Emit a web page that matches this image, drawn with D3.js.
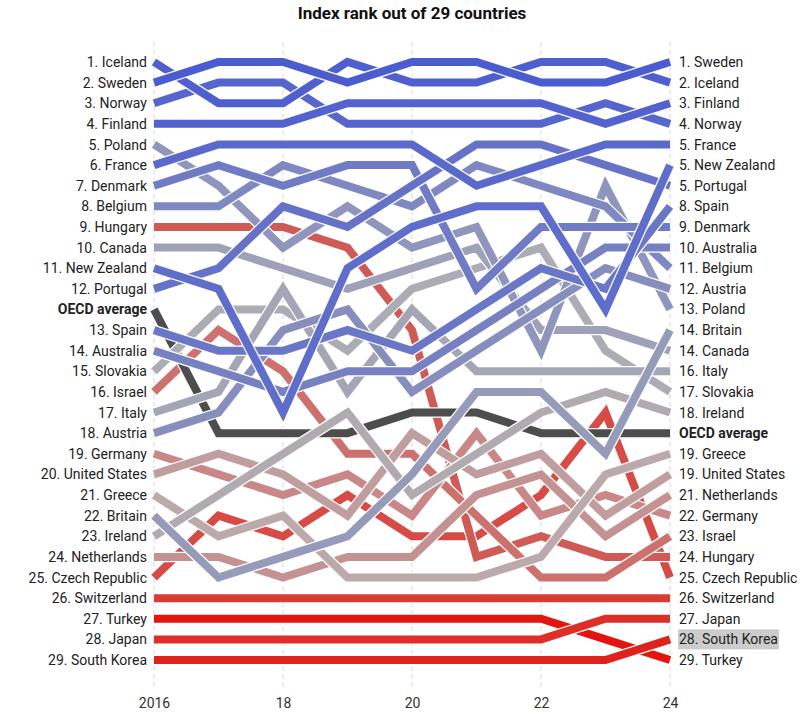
<!DOCTYPE html>
<html>
<head>
<meta charset="utf-8">
<script src="https://cdn.jsdelivr.net/npm/d3@7"></script>
<style>
  html, body { margin: 0; padding: 0; background: #fff; }
  svg { display: block; }
  text { font-family: Roboto, "Liberation Sans", sans-serif; }
</style>
</head>
<body>
<script>
// ---------- DATA ----------
const years = [2016, 2017, 2018, 2019, 2020, 2021, 2022, 2023, 2024];

const names = [
  "Iceland", "Sweden", "Norway", "Finland", "Poland", "France", "Denmark", "Belgium",
  "Hungary", "Canada", "New Zealand", "Portugal", "OECD average", "Spain", "Australia",
  "Slovakia", "Israel", "Italy", "Austria", "Germany", "United States", "Greece",
  "Britain", "Ireland", "Netherlands", "Czech Republic", "Switzerland", "Turkey",
  "Japan", "South Korea"
];

// position (row, 0 = top) of each series in each year
const positions = [
  [0, 2, 2, 0, 1, 1, 0, 0, 1],        // Iceland
  [1, 0, 0, 1, 0, 0, 1, 1, 0],        // Sweden
  [2, 1, 1, 3, 3, 3, 3, 2, 3],        // Norway
  [3, 3, 3, 2, 2, 2, 2, 3, 2],        // Finland
  [4, 6, 9, 7, 9, 8, 14, 6, 12],      // Poland
  [5, 4, 4, 4, 4, 6, 5, 4, 4],        // France
  [6, 5, 6, 5, 5, 11, 8, 8, 8],       // Denmark
  [7, 7, 5, 6, 7, 5, 6, 7, 10],       // Belgium
  [8, 8, 8, 9, 13, 24, 23, 24, 24],   // Hungary
  [9, 9, 10, 11, 10, 9, 13, 13, 14],  // Canada
  [10, 11, 17, 10, 8, 7, 7, 12, 5],   // New Zealand
  [11, 10, 7, 8, 6, 4, 4, 5, 6],      // Portugal
  [12, 18, 18, 18, 17, 17, 18, 18, 18], // OECD average
  [13, 14, 14, 13, 14, 12, 10, 11, 7],  // Spain
  [14, 15, 16, 15, 15, 13, 11, 9, 9],   // Australia
  [15, 12, 12, 14, 11, 10, 9, 14, 16],  // Slovakia
  [16, 13, 15, 19, 19, 22, 25, 25, 23], // Israel
  [17, 16, 11, 16, 12, 15, 15, 15, 15], // Italy
  [18, 17, 13, 12, 16, 14, 12, 10, 11], // Austria
  [19, 20, 21, 20, 22, 18, 22, 21, 22], // Germany
  [20, 19, 20, 22, 18, 20, 19, 22, 20], // United States
  [21, 23, 22, 25, 25, 25, 24, 20, 19], // Greece
  [22, 25, 24, 23, 20, 16, 16, 19, 13], // Britain
  [23, 21, 19, 17, 21, 19, 17, 16, 17], // Ireland
  [24, 24, 25, 24, 24, 21, 20, 23, 21], // Netherlands
  [25, 22, 23, 21, 23, 23, 21, 17, 25], // Czech Republic
  [26, 26, 26, 26, 26, 26, 26, 26, 26], // Switzerland
  [27, 27, 27, 27, 27, 27, 27, 28, 29], // Turkey
  [28, 28, 28, 28, 28, 28, 28, 27, 27], // Japan
  [29, 29, 29, 29, 29, 29, 29, 29, 28]  // South Korea
];

const leftLabels = [
  "1. Iceland", "2. Sweden", "3. Norway", "4. Finland", "5. Poland", "6. France",
  "7. Denmark", "8. Belgium", "9. Hungary", "10. Canada", "11. New Zealand",
  "12. Portugal", "OECD average", "13. Spain", "14. Australia", "15. Slovakia",
  "16. Israel", "17. Italy", "18. Austria", "19. Germany", "20. United States",
  "21. Greece", "22. Britain", "23. Ireland", "24. Netherlands", "25. Czech Republic",
  "26. Switzerland", "27. Turkey", "28. Japan", "29. South Korea"
];

const rightLabels = [
  "1. Sweden", "2. Iceland", "3. Finland", "4. Norway", "5. France", "5. New Zealand",
  "5. Portugal", "8. Spain", "9. Denmark", "10. Australia", "11. Belgium",
  "12. Austria", "13. Poland", "14. Britain", "14. Canada", "16. Italy",
  "17. Slovakia", "18. Ireland", "OECD average", "19. Greece", "19. United States",
  "21. Netherlands", "22. Germany", "23. Israel", "24. Hungary", "25. Czech Republic",
  "26. Switzerland", "27. Japan", "28. South Korea", "29. Turkey"
];

const xTicks = [2016, 2018, 2020, 2022, 2024];
const title = "Index rank out of 29 countries";

// ---------- CHART ----------
const W = 802, H = 715;
const svg = d3.select("body").append("svg").attr("width", W).attr("height", H);

const x = d3.scaleLinear().domain([2016, 2024]).range([154, 670]);
const y = d3.scaleLinear().domain([0, 29]).range([62, 660]);

const color = d3.scaleLinear()
  .domain([0, 4, 8, 13, 16, 19, 22, 24, 26, 29])
  .range(["#4b5bd0", "#5a69cc", "#6f7bc4", "#979bba", "#abacb4", "#bca9ab",
          "#c98787", "#d05b56", "#db3b35", "#e3150f"])
  .interpolate(d3.interpolateRgb);

// title
svg.append("text")
  .attr("x", 412).attr("y", 19)
  .attr("text-anchor", "middle")
  .attr("font-size", 17).attr("font-weight", "bold").attr("fill", "#111")
  .text(title);

// grid lines
svg.append("g").selectAll("line").data(xTicks).join("line")
  .attr("x1", d => x(d)).attr("x2", d => x(d))
  .attr("y1", 42).attr("y2", 688)
  .attr("stroke", "#d9d9d9").attr("stroke-width", 1)
  .attr("stroke-dasharray", "5,3");

// bottom axis
const axis = svg.append("g").attr("transform", "translate(0,688)")
  .call(d3.axisBottom(x).tickValues(xTicks)
    .tickFormat(d => d === 2016 ? "2016" : String(d).slice(2))
    .tickSize(0).tickPadding(10));
axis.select(".domain").remove();
axis.selectAll("text").attr("font-size", 14).attr("fill", "#333")
  .style("font-family", 'Roboto, "Liberation Sans", sans-serif');

// lines
const line = d3.line().x((d, i) => x(years[i])).y(d => y(d));
const series = names.map((n, i) => ({ name: n, pos: positions[i] }));
const order = series.slice().sort((a, b) => b.pos[8] - a.pos[8]);

const lg = svg.append("g").attr("fill", "none");
order.forEach(s => {
  const g = lg.append("g");
  const col = s.name === "OECD average" ? "#4d4d4d" : color(s.pos[8]);
  g.append("path").attr("d", line(s.pos))
    .attr("stroke", "#fff").attr("stroke-width", 10.5)
    .attr("stroke-linejoin", "miter").attr("stroke-miterlimit", 2.5);
  g.append("path").attr("d", line(s.pos))
    .attr("stroke", col).attr("stroke-width", 8)
    .attr("stroke-linejoin", "miter").attr("stroke-miterlimit", 2.5);
});

// left labels
svg.append("g").selectAll("text").data(leftLabels).join("text")
  .attr("x", 147).attr("y", (d, i) => y(i)).attr("dy", "0.36em")
  .attr("text-anchor", "end").attr("font-size", 14).attr("fill", "#222")
  .attr("font-weight", d => d === "OECD average" ? "bold" : "normal")
  .text(d => d);

// highlight behind "28. South Korea"
const hiIdx = rightLabels.indexOf("28. South Korea");
const rg = svg.append("g");
const hiRect = rg.append("rect").attr("fill", "#cccccc");
const rt = rg.selectAll("text").data(rightLabels).join("text")
  .attr("x", 679).attr("y", (d, i) => y(i)).attr("dy", "0.36em")
  .attr("text-anchor", "start").attr("font-size", 14).attr("fill", "#222")
  .attr("font-weight", d => d === "OECD average" ? "bold" : "normal")
  .text(d => d);
const bb = rt.nodes()[hiIdx].getBBox();
hiRect.attr("x", bb.x - 1).attr("y", y(hiIdx) - 10).attr("width", bb.width + 2).attr("height", 20);
</script>
</body>
</html>
